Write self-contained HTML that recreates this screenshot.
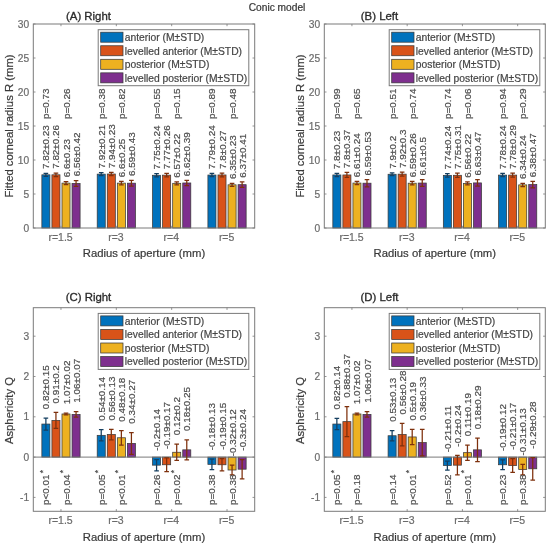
<!DOCTYPE html>
<html><head><meta charset="utf-8"><style>
html,body{margin:0;padding:0;background:#fff;}
svg{display:block;font-family:"Liberation Sans", sans-serif;filter:blur(0.35px);}
text{stroke-width:0.2px;paint-order:stroke;}
</style></head><body>
<svg width="550" height="546" viewBox="0 0 550 546">
<rect width="550" height="546" fill="#fff"/>
<rect x="41.86" y="174.82" width="8.05" height="53.18" fill="#0072BD" stroke="#3a3a3a" stroke-width="0.75"/>
<rect x="51.92" y="174.82" width="8.05" height="53.18" fill="#D95319" stroke="#3a3a3a" stroke-width="0.75"/>
<rect x="61.98" y="183.12" width="8.05" height="44.88" fill="#EDB120" stroke="#3a3a3a" stroke-width="0.75"/>
<rect x="72.04" y="183.39" width="8.05" height="44.61" fill="#7E2F8E" stroke="#3a3a3a" stroke-width="0.75"/>
<rect x="97.21" y="174.14" width="8.05" height="53.86" fill="#0072BD" stroke="#3a3a3a" stroke-width="0.75"/>
<rect x="107.27" y="174.01" width="8.05" height="53.99" fill="#D95319" stroke="#3a3a3a" stroke-width="0.75"/>
<rect x="117.33" y="183.12" width="8.05" height="44.88" fill="#EDB120" stroke="#3a3a3a" stroke-width="0.75"/>
<rect x="127.39" y="183.19" width="8.05" height="44.81" fill="#7E2F8E" stroke="#3a3a3a" stroke-width="0.75"/>
<rect x="152.56" y="175.30" width="8.05" height="52.70" fill="#0072BD" stroke="#3a3a3a" stroke-width="0.75"/>
<rect x="162.62" y="175.16" width="8.05" height="52.84" fill="#D95319" stroke="#3a3a3a" stroke-width="0.75"/>
<rect x="172.68" y="183.32" width="8.05" height="44.68" fill="#EDB120" stroke="#3a3a3a" stroke-width="0.75"/>
<rect x="182.74" y="182.98" width="8.05" height="45.02" fill="#7E2F8E" stroke="#3a3a3a" stroke-width="0.75"/>
<rect x="207.91" y="175.03" width="8.05" height="52.97" fill="#0072BD" stroke="#3a3a3a" stroke-width="0.75"/>
<rect x="217.97" y="174.96" width="8.05" height="53.04" fill="#D95319" stroke="#3a3a3a" stroke-width="0.75"/>
<rect x="228.03" y="184.82" width="8.05" height="43.18" fill="#EDB120" stroke="#3a3a3a" stroke-width="0.75"/>
<rect x="238.09" y="184.68" width="8.05" height="43.32" fill="#7E2F8E" stroke="#3a3a3a" stroke-width="0.75"/>
<path d="M45.88 173.26V176.39M43.58 173.26H48.18M43.58 176.39H48.18" stroke="#153f60" stroke-width="1.25" fill="none"/>
<path d="M55.94 173.06V176.59M53.64 173.06H58.24M53.64 176.59H58.24" stroke="#7e300c" stroke-width="1.25" fill="none"/>
<path d="M66.01 181.56V184.68M63.71 181.56H68.31M63.71 184.68H68.31" stroke="#7e300c" stroke-width="1.25" fill="none"/>
<path d="M76.07 180.54V186.25M73.77 180.54H78.37M73.77 186.25H78.37" stroke="#7e300c" stroke-width="1.25" fill="none"/>
<path d="M101.23 172.72V175.57M98.93 172.72H103.53M98.93 175.57H103.53" stroke="#153f60" stroke-width="1.25" fill="none"/>
<path d="M111.29 172.44V175.57M108.99 172.44H113.59M108.99 175.57H113.59" stroke="#7e300c" stroke-width="1.25" fill="none"/>
<path d="M121.36 181.42V184.82M119.06 181.42H123.66M119.06 184.82H123.66" stroke="#7e300c" stroke-width="1.25" fill="none"/>
<path d="M131.42 180.26V186.11M129.12 180.26H133.72M129.12 186.11H133.72" stroke="#7e300c" stroke-width="1.25" fill="none"/>
<path d="M156.58 173.67V176.93M154.28 173.67H158.88M154.28 176.93H158.88" stroke="#153f60" stroke-width="1.25" fill="none"/>
<path d="M166.64 173.40V176.93M164.34 173.40H168.94M164.34 176.93H168.94" stroke="#7e300c" stroke-width="1.25" fill="none"/>
<path d="M176.71 181.83V184.82M174.41 181.83H179.01M174.41 184.82H179.01" stroke="#7e300c" stroke-width="1.25" fill="none"/>
<path d="M186.77 180.33V185.64M184.47 180.33H189.07M184.47 185.64H189.07" stroke="#7e300c" stroke-width="1.25" fill="none"/>
<path d="M211.93 173.40V176.66M209.63 173.40H214.23M209.63 176.66H214.23" stroke="#153f60" stroke-width="1.25" fill="none"/>
<path d="M221.99 173.12V176.80M219.69 173.12H224.29M219.69 176.80H224.29" stroke="#7e300c" stroke-width="1.25" fill="none"/>
<path d="M232.06 183.26V186.38M229.76 183.26H234.36M229.76 186.38H234.36" stroke="#7e300c" stroke-width="1.25" fill="none"/>
<path d="M242.12 181.90V187.47M239.82 181.90H244.42M239.82 187.47H244.42" stroke="#7e300c" stroke-width="1.25" fill="none"/>
<text transform="translate(49.43,169.06) rotate(-90)" font-size="9.9" fill="#4a4a4a" stroke="#4a4a4a">7.82±0.23</text>
<text transform="translate(59.49,168.86) rotate(-90)" font-size="9.9" fill="#4a4a4a" stroke="#4a4a4a">7.82±0.26</text>
<text transform="translate(69.55,177.36) rotate(-90)" font-size="9.9" fill="#4a4a4a" stroke="#4a4a4a">6.6±0.23</text>
<text transform="translate(79.61,176.34) rotate(-90)" font-size="9.9" fill="#4a4a4a" stroke="#4a4a4a">6.56±0.42</text>
<text transform="translate(104.78,168.52) rotate(-90)" font-size="9.9" fill="#4a4a4a" stroke="#4a4a4a">7.92±0.21</text>
<text transform="translate(114.84,168.24) rotate(-90)" font-size="9.9" fill="#4a4a4a" stroke="#4a4a4a">7.94±0.23</text>
<text transform="translate(124.90,177.22) rotate(-90)" font-size="9.9" fill="#4a4a4a" stroke="#4a4a4a">6.6±0.25</text>
<text transform="translate(134.96,176.06) rotate(-90)" font-size="9.9" fill="#4a4a4a" stroke="#4a4a4a">6.59±0.43</text>
<text transform="translate(160.13,169.47) rotate(-90)" font-size="9.9" fill="#4a4a4a" stroke="#4a4a4a">7.75±0.24</text>
<text transform="translate(170.19,169.20) rotate(-90)" font-size="9.9" fill="#4a4a4a" stroke="#4a4a4a">7.77±0.26</text>
<text transform="translate(180.25,177.63) rotate(-90)" font-size="9.9" fill="#4a4a4a" stroke="#4a4a4a">6.57±0.22</text>
<text transform="translate(190.31,176.13) rotate(-90)" font-size="9.9" fill="#4a4a4a" stroke="#4a4a4a">6.62±0.39</text>
<text transform="translate(215.48,169.20) rotate(-90)" font-size="9.9" fill="#4a4a4a" stroke="#4a4a4a">7.79±0.24</text>
<text transform="translate(225.54,168.92) rotate(-90)" font-size="9.9" fill="#4a4a4a" stroke="#4a4a4a">7.8±0.27</text>
<text transform="translate(235.60,179.06) rotate(-90)" font-size="9.9" fill="#4a4a4a" stroke="#4a4a4a">6.35±0.23</text>
<text transform="translate(245.66,177.70) rotate(-90)" font-size="9.9" fill="#4a4a4a" stroke="#4a4a4a">6.37±0.41</text>
<text transform="translate(49.43,119.00) rotate(-90)" font-size="9.9" fill="#4a4a4a" stroke="#4a4a4a">p=0.73</text>
<text transform="translate(69.55,119.00) rotate(-90)" font-size="9.9" fill="#4a4a4a" stroke="#4a4a4a">p=0.26</text>
<text transform="translate(104.78,119.00) rotate(-90)" font-size="9.9" fill="#4a4a4a" stroke="#4a4a4a">p=0.38</text>
<text transform="translate(124.90,119.00) rotate(-90)" font-size="9.9" fill="#4a4a4a" stroke="#4a4a4a">p=0.82</text>
<text transform="translate(160.13,119.00) rotate(-90)" font-size="9.9" fill="#4a4a4a" stroke="#4a4a4a">p=0.55</text>
<text transform="translate(180.25,119.00) rotate(-90)" font-size="9.9" fill="#4a4a4a" stroke="#4a4a4a">p=0.15</text>
<text transform="translate(215.48,119.00) rotate(-90)" font-size="9.9" fill="#4a4a4a" stroke="#4a4a4a">p=0.89</text>
<text transform="translate(235.60,119.00) rotate(-90)" font-size="9.9" fill="#4a4a4a" stroke="#4a4a4a">p=0.48</text>
<rect x="33.3" y="24.0" width="221.40" height="204.00" fill="none" stroke="#7a7a7a" stroke-width="1.0"/>
<path d="M33.3 228.00h2.2M254.7 228.00h-2.2" stroke="#7a7a7a" stroke-width="0.8"/>
<text x="29.10" y="231.65" font-size="10.2" fill="#6a6a6a" stroke="#6a6a6a" text-anchor="end">0</text>
<path d="M33.3 194.00h2.2M254.7 194.00h-2.2" stroke="#7a7a7a" stroke-width="0.8"/>
<text x="29.10" y="197.65" font-size="10.2" fill="#6a6a6a" stroke="#6a6a6a" text-anchor="end">5</text>
<path d="M33.3 160.00h2.2M254.7 160.00h-2.2" stroke="#7a7a7a" stroke-width="0.8"/>
<text x="29.10" y="163.65" font-size="10.2" fill="#6a6a6a" stroke="#6a6a6a" text-anchor="end">10</text>
<path d="M33.3 126.00h2.2M254.7 126.00h-2.2" stroke="#7a7a7a" stroke-width="0.8"/>
<text x="29.10" y="129.65" font-size="10.2" fill="#6a6a6a" stroke="#6a6a6a" text-anchor="end">15</text>
<path d="M33.3 92.00h2.2M254.7 92.00h-2.2" stroke="#7a7a7a" stroke-width="0.8"/>
<text x="29.10" y="95.65" font-size="10.2" fill="#6a6a6a" stroke="#6a6a6a" text-anchor="end">20</text>
<path d="M33.3 58.00h2.2M254.7 58.00h-2.2" stroke="#7a7a7a" stroke-width="0.8"/>
<text x="29.10" y="61.65" font-size="10.2" fill="#6a6a6a" stroke="#6a6a6a" text-anchor="end">25</text>
<path d="M33.3 24.00h2.2M254.7 24.00h-2.2" stroke="#7a7a7a" stroke-width="0.8"/>
<text x="29.10" y="27.65" font-size="10.2" fill="#6a6a6a" stroke="#6a6a6a" text-anchor="end">30</text>
<path d="M60.97 228.0v-2.2M60.97 24.0v2.2" stroke="#7a7a7a" stroke-width="0.8"/>
<text x="60.57" y="241.10" font-size="10.50" fill="#6a6a6a" stroke="#6a6a6a" text-anchor="middle">r=1.5</text>
<path d="M116.32 228.0v-2.2M116.32 24.0v2.2" stroke="#7a7a7a" stroke-width="0.8"/>
<text x="115.92" y="241.10" font-size="10.50" fill="#6a6a6a" stroke="#6a6a6a" text-anchor="middle">r=3</text>
<path d="M171.68 228.0v-2.2M171.68 24.0v2.2" stroke="#7a7a7a" stroke-width="0.8"/>
<text x="171.28" y="241.10" font-size="10.50" fill="#6a6a6a" stroke="#6a6a6a" text-anchor="middle">r=4</text>
<path d="M227.02 228.0v-2.2M227.02 24.0v2.2" stroke="#7a7a7a" stroke-width="0.8"/>
<text x="226.62" y="241.10" font-size="10.50" fill="#6a6a6a" stroke="#6a6a6a" text-anchor="middle">r=5</text>
<text x="144.00" y="257.30" font-size="11.3" fill="#383838" stroke="#383838" text-anchor="middle">Radius of aperture (mm)</text>
<text transform="translate(13.30,126.00) rotate(-90)" font-size="11.3" fill="#383838" stroke="#383838" text-anchor="middle">Fitted corneal radius R (mm)</text>
<text x="88.50" y="20.30" font-size="11.4" fill="#2a2a2a" stroke="#2a2a2a" style="stroke-width:0.32px" text-anchor="middle">(A) Right</text>
<rect x="98.20" y="29.70" width="150.6" height="56.0" fill="#fff" stroke="#7a7a7a" stroke-width="1.0"/>
<rect x="100.70" y="32.20" width="22.3" height="10" fill="#0072BD" stroke="#3a3a3a" stroke-width="0.75"/>
<text x="124.80" y="41.00" font-size="10.3" fill="#444" stroke="#444">anterior (M±STD)</text>
<rect x="100.70" y="45.75" width="22.3" height="10" fill="#D95319" stroke="#3a3a3a" stroke-width="0.75"/>
<text x="124.80" y="54.55" font-size="10.3" fill="#444" stroke="#444">levelled anterior (M±STD)</text>
<rect x="100.70" y="59.30" width="22.3" height="10" fill="#EDB120" stroke="#3a3a3a" stroke-width="0.75"/>
<text x="124.80" y="68.10" font-size="10.3" fill="#444" stroke="#444">posterior (M±STD)</text>
<rect x="100.70" y="72.85" width="22.3" height="10" fill="#7E2F8E" stroke="#3a3a3a" stroke-width="0.75"/>
<text x="124.80" y="81.65" font-size="10.3" fill="#444" stroke="#444">levelled posterior (M±STD)</text>
<rect x="332.84" y="174.96" width="8.04" height="53.04" fill="#0072BD" stroke="#3a3a3a" stroke-width="0.75"/>
<rect x="342.88" y="174.96" width="8.04" height="53.04" fill="#D95319" stroke="#3a3a3a" stroke-width="0.75"/>
<rect x="352.93" y="183.05" width="8.04" height="44.95" fill="#EDB120" stroke="#3a3a3a" stroke-width="0.75"/>
<rect x="362.97" y="183.19" width="8.04" height="44.81" fill="#7E2F8E" stroke="#3a3a3a" stroke-width="0.75"/>
<rect x="388.09" y="174.28" width="8.04" height="53.72" fill="#0072BD" stroke="#3a3a3a" stroke-width="0.75"/>
<rect x="398.13" y="174.14" width="8.04" height="53.86" fill="#D95319" stroke="#3a3a3a" stroke-width="0.75"/>
<rect x="408.18" y="183.19" width="8.04" height="44.81" fill="#EDB120" stroke="#3a3a3a" stroke-width="0.75"/>
<rect x="418.22" y="183.05" width="8.04" height="44.95" fill="#7E2F8E" stroke="#3a3a3a" stroke-width="0.75"/>
<rect x="443.34" y="175.37" width="8.04" height="52.63" fill="#0072BD" stroke="#3a3a3a" stroke-width="0.75"/>
<rect x="453.38" y="175.30" width="8.04" height="52.70" fill="#D95319" stroke="#3a3a3a" stroke-width="0.75"/>
<rect x="463.43" y="183.39" width="8.04" height="44.61" fill="#EDB120" stroke="#3a3a3a" stroke-width="0.75"/>
<rect x="473.47" y="182.92" width="8.04" height="45.08" fill="#7E2F8E" stroke="#3a3a3a" stroke-width="0.75"/>
<rect x="498.59" y="175.10" width="8.04" height="52.90" fill="#0072BD" stroke="#3a3a3a" stroke-width="0.75"/>
<rect x="508.63" y="175.10" width="8.04" height="52.90" fill="#D95319" stroke="#3a3a3a" stroke-width="0.75"/>
<rect x="518.68" y="184.89" width="8.04" height="43.11" fill="#EDB120" stroke="#3a3a3a" stroke-width="0.75"/>
<rect x="528.72" y="184.62" width="8.04" height="43.38" fill="#7E2F8E" stroke="#3a3a3a" stroke-width="0.75"/>
<path d="M336.86 173.40V176.52M334.56 173.40H339.16M334.56 176.52H339.16" stroke="#153f60" stroke-width="1.25" fill="none"/>
<path d="M346.90 172.44V177.48M344.60 172.44H349.20M344.60 177.48H349.20" stroke="#7e300c" stroke-width="1.25" fill="none"/>
<path d="M356.95 181.42V184.68M354.65 181.42H359.25M354.65 184.68H359.25" stroke="#7e300c" stroke-width="1.25" fill="none"/>
<path d="M366.99 179.58V186.79M364.69 179.58H369.29M364.69 186.79H369.29" stroke="#7e300c" stroke-width="1.25" fill="none"/>
<path d="M392.11 172.92V175.64M389.81 172.92H394.41M389.81 175.64H394.41" stroke="#153f60" stroke-width="1.25" fill="none"/>
<path d="M402.15 172.10V176.18M399.85 172.10H404.45M399.85 176.18H404.45" stroke="#7e300c" stroke-width="1.25" fill="none"/>
<path d="M412.20 181.42V184.96M409.90 181.42H414.50M409.90 184.96H414.50" stroke="#7e300c" stroke-width="1.25" fill="none"/>
<path d="M422.24 179.65V186.45M419.94 179.65H424.54M419.94 186.45H424.54" stroke="#7e300c" stroke-width="1.25" fill="none"/>
<path d="M447.36 173.74V177.00M445.06 173.74H449.66M445.06 177.00H449.66" stroke="#153f60" stroke-width="1.25" fill="none"/>
<path d="M457.40 173.19V177.41M455.10 173.19H459.70M455.10 177.41H459.70" stroke="#7e300c" stroke-width="1.25" fill="none"/>
<path d="M467.45 181.90V184.89M465.15 181.90H469.75M465.15 184.89H469.75" stroke="#7e300c" stroke-width="1.25" fill="none"/>
<path d="M477.49 179.72V186.11M475.19 179.72H479.79M475.19 186.11H479.79" stroke="#7e300c" stroke-width="1.25" fill="none"/>
<path d="M502.61 173.46V176.73M500.31 173.46H504.91M500.31 176.73H504.91" stroke="#153f60" stroke-width="1.25" fill="none"/>
<path d="M512.65 173.12V177.07M510.35 173.12H514.95M510.35 177.07H514.95" stroke="#7e300c" stroke-width="1.25" fill="none"/>
<path d="M522.70 183.26V186.52M520.40 183.26H525.00M520.40 186.52H525.00" stroke="#7e300c" stroke-width="1.25" fill="none"/>
<path d="M532.74 181.42V187.81M530.44 181.42H535.04M530.44 187.81H535.04" stroke="#7e300c" stroke-width="1.25" fill="none"/>
<text transform="translate(340.40,169.20) rotate(-90)" font-size="9.9" fill="#4a4a4a" stroke="#4a4a4a">7.8±0.23</text>
<text transform="translate(350.45,168.24) rotate(-90)" font-size="9.9" fill="#4a4a4a" stroke="#4a4a4a">7.8±0.37</text>
<text transform="translate(360.49,177.22) rotate(-90)" font-size="9.9" fill="#4a4a4a" stroke="#4a4a4a">6.61±0.24</text>
<text transform="translate(370.54,175.38) rotate(-90)" font-size="9.9" fill="#4a4a4a" stroke="#4a4a4a">6.59±0.53</text>
<text transform="translate(395.65,168.72) rotate(-90)" font-size="9.9" fill="#4a4a4a" stroke="#4a4a4a">7.9±0.2</text>
<text transform="translate(405.70,167.90) rotate(-90)" font-size="9.9" fill="#4a4a4a" stroke="#4a4a4a">7.92±0.3</text>
<text transform="translate(415.74,177.22) rotate(-90)" font-size="9.9" fill="#4a4a4a" stroke="#4a4a4a">6.59±0.26</text>
<text transform="translate(425.79,175.45) rotate(-90)" font-size="9.9" fill="#4a4a4a" stroke="#4a4a4a">6.61±0.5</text>
<text transform="translate(450.90,169.54) rotate(-90)" font-size="9.9" fill="#4a4a4a" stroke="#4a4a4a">7.74±0.24</text>
<text transform="translate(460.95,168.99) rotate(-90)" font-size="9.9" fill="#4a4a4a" stroke="#4a4a4a">7.75±0.31</text>
<text transform="translate(470.99,177.70) rotate(-90)" font-size="9.9" fill="#4a4a4a" stroke="#4a4a4a">6.56±0.22</text>
<text transform="translate(481.04,175.52) rotate(-90)" font-size="9.9" fill="#4a4a4a" stroke="#4a4a4a">6.63±0.47</text>
<text transform="translate(506.15,169.26) rotate(-90)" font-size="9.9" fill="#4a4a4a" stroke="#4a4a4a">7.78±0.24</text>
<text transform="translate(516.20,168.92) rotate(-90)" font-size="9.9" fill="#4a4a4a" stroke="#4a4a4a">7.78±0.29</text>
<text transform="translate(526.24,179.06) rotate(-90)" font-size="9.9" fill="#4a4a4a" stroke="#4a4a4a">6.34±0.24</text>
<text transform="translate(536.29,177.22) rotate(-90)" font-size="9.9" fill="#4a4a4a" stroke="#4a4a4a">6.38±0.47</text>
<text transform="translate(340.40,119.00) rotate(-90)" font-size="9.9" fill="#4a4a4a" stroke="#4a4a4a">p=0.99</text>
<text transform="translate(360.49,119.00) rotate(-90)" font-size="9.9" fill="#4a4a4a" stroke="#4a4a4a">p=0.65</text>
<text transform="translate(395.65,119.00) rotate(-90)" font-size="9.9" fill="#4a4a4a" stroke="#4a4a4a">p=0.51</text>
<text transform="translate(415.74,119.00) rotate(-90)" font-size="9.9" fill="#4a4a4a" stroke="#4a4a4a">p=0.74</text>
<text transform="translate(450.90,119.00) rotate(-90)" font-size="9.9" fill="#4a4a4a" stroke="#4a4a4a">p=0.74</text>
<text transform="translate(470.99,119.00) rotate(-90)" font-size="9.9" fill="#4a4a4a" stroke="#4a4a4a">p=0.06</text>
<text transform="translate(506.15,119.00) rotate(-90)" font-size="9.9" fill="#4a4a4a" stroke="#4a4a4a">p=0.94</text>
<text transform="translate(526.24,119.00) rotate(-90)" font-size="9.9" fill="#4a4a4a" stroke="#4a4a4a">p=0.29</text>
<rect x="324.3" y="24.0" width="221.00" height="204.00" fill="none" stroke="#7a7a7a" stroke-width="1.0"/>
<path d="M324.3 228.00h2.2M545.3 228.00h-2.2" stroke="#7a7a7a" stroke-width="0.8"/>
<text x="320.10" y="231.65" font-size="10.2" fill="#6a6a6a" stroke="#6a6a6a" text-anchor="end">0</text>
<path d="M324.3 194.00h2.2M545.3 194.00h-2.2" stroke="#7a7a7a" stroke-width="0.8"/>
<text x="320.10" y="197.65" font-size="10.2" fill="#6a6a6a" stroke="#6a6a6a" text-anchor="end">5</text>
<path d="M324.3 160.00h2.2M545.3 160.00h-2.2" stroke="#7a7a7a" stroke-width="0.8"/>
<text x="320.10" y="163.65" font-size="10.2" fill="#6a6a6a" stroke="#6a6a6a" text-anchor="end">10</text>
<path d="M324.3 126.00h2.2M545.3 126.00h-2.2" stroke="#7a7a7a" stroke-width="0.8"/>
<text x="320.10" y="129.65" font-size="10.2" fill="#6a6a6a" stroke="#6a6a6a" text-anchor="end">15</text>
<path d="M324.3 92.00h2.2M545.3 92.00h-2.2" stroke="#7a7a7a" stroke-width="0.8"/>
<text x="320.10" y="95.65" font-size="10.2" fill="#6a6a6a" stroke="#6a6a6a" text-anchor="end">20</text>
<path d="M324.3 58.00h2.2M545.3 58.00h-2.2" stroke="#7a7a7a" stroke-width="0.8"/>
<text x="320.10" y="61.65" font-size="10.2" fill="#6a6a6a" stroke="#6a6a6a" text-anchor="end">25</text>
<path d="M324.3 24.00h2.2M545.3 24.00h-2.2" stroke="#7a7a7a" stroke-width="0.8"/>
<text x="320.10" y="27.65" font-size="10.2" fill="#6a6a6a" stroke="#6a6a6a" text-anchor="end">30</text>
<path d="M351.93 228.0v-2.2M351.93 24.0v2.2" stroke="#7a7a7a" stroke-width="0.8"/>
<text x="351.53" y="241.10" font-size="10.50" fill="#6a6a6a" stroke="#6a6a6a" text-anchor="middle">r=1.5</text>
<path d="M407.17 228.0v-2.2M407.17 24.0v2.2" stroke="#7a7a7a" stroke-width="0.8"/>
<text x="406.77" y="241.10" font-size="10.50" fill="#6a6a6a" stroke="#6a6a6a" text-anchor="middle">r=3</text>
<path d="M462.42 228.0v-2.2M462.42 24.0v2.2" stroke="#7a7a7a" stroke-width="0.8"/>
<text x="462.02" y="241.10" font-size="10.50" fill="#6a6a6a" stroke="#6a6a6a" text-anchor="middle">r=4</text>
<path d="M517.67 228.0v-2.2M517.67 24.0v2.2" stroke="#7a7a7a" stroke-width="0.8"/>
<text x="517.27" y="241.10" font-size="10.50" fill="#6a6a6a" stroke="#6a6a6a" text-anchor="middle">r=5</text>
<text x="434.80" y="257.30" font-size="11.3" fill="#383838" stroke="#383838" text-anchor="middle">Radius of aperture (mm)</text>
<text transform="translate(304.30,126.00) rotate(-90)" font-size="11.3" fill="#383838" stroke="#383838" text-anchor="middle">Fitted corneal radius R (mm)</text>
<text x="379.50" y="20.30" font-size="11.4" fill="#2a2a2a" stroke="#2a2a2a" style="stroke-width:0.32px" text-anchor="middle">(B) Left</text>
<rect x="389.20" y="29.70" width="150.6" height="56.0" fill="#fff" stroke="#7a7a7a" stroke-width="1.0"/>
<rect x="391.70" y="32.20" width="22.3" height="10" fill="#0072BD" stroke="#3a3a3a" stroke-width="0.75"/>
<text x="415.80" y="41.00" font-size="10.3" fill="#444" stroke="#444">anterior (M±STD)</text>
<rect x="391.70" y="45.75" width="22.3" height="10" fill="#D95319" stroke="#3a3a3a" stroke-width="0.75"/>
<text x="415.80" y="54.55" font-size="10.3" fill="#444" stroke="#444">levelled anterior (M±STD)</text>
<rect x="391.70" y="59.30" width="22.3" height="10" fill="#EDB120" stroke="#3a3a3a" stroke-width="0.75"/>
<text x="415.80" y="68.10" font-size="10.3" fill="#444" stroke="#444">posterior (M±STD)</text>
<rect x="391.70" y="72.85" width="22.3" height="10" fill="#7E2F8E" stroke="#3a3a3a" stroke-width="0.75"/>
<text x="415.80" y="81.65" font-size="10.3" fill="#444" stroke="#444">levelled posterior (M±STD)</text>
<rect x="41.86" y="424.05" width="8.05" height="33.05" fill="#0072BD" stroke="#3a3a3a" stroke-width="0.75"/>
<rect x="51.92" y="420.43" width="8.05" height="36.67" fill="#D95319" stroke="#3a3a3a" stroke-width="0.75"/>
<rect x="61.98" y="413.98" width="8.05" height="43.12" fill="#EDB120" stroke="#3a3a3a" stroke-width="0.75"/>
<rect x="72.04" y="414.38" width="8.05" height="42.72" fill="#7E2F8E" stroke="#3a3a3a" stroke-width="0.75"/>
<rect x="97.21" y="435.34" width="8.05" height="21.76" fill="#0072BD" stroke="#3a3a3a" stroke-width="0.75"/>
<rect x="107.27" y="434.53" width="8.05" height="22.57" fill="#D95319" stroke="#3a3a3a" stroke-width="0.75"/>
<rect x="117.33" y="437.76" width="8.05" height="19.34" fill="#EDB120" stroke="#3a3a3a" stroke-width="0.75"/>
<rect x="127.39" y="443.40" width="8.05" height="13.70" fill="#7E2F8E" stroke="#3a3a3a" stroke-width="0.75"/>
<rect x="152.56" y="457.10" width="8.05" height="8.06" fill="#0072BD" stroke="#3a3a3a" stroke-width="0.75"/>
<rect x="162.62" y="457.10" width="8.05" height="7.66" fill="#D95319" stroke="#3a3a3a" stroke-width="0.75"/>
<rect x="172.68" y="452.26" width="8.05" height="4.84" fill="#EDB120" stroke="#3a3a3a" stroke-width="0.75"/>
<rect x="182.74" y="449.85" width="8.05" height="7.25" fill="#7E2F8E" stroke="#3a3a3a" stroke-width="0.75"/>
<rect x="207.91" y="457.10" width="8.05" height="7.25" fill="#0072BD" stroke="#3a3a3a" stroke-width="0.75"/>
<rect x="217.97" y="457.10" width="8.05" height="7.66" fill="#D95319" stroke="#3a3a3a" stroke-width="0.75"/>
<rect x="228.03" y="457.10" width="8.05" height="12.90" fill="#EDB120" stroke="#3a3a3a" stroke-width="0.75"/>
<rect x="238.09" y="457.10" width="8.05" height="12.09" fill="#7E2F8E" stroke="#3a3a3a" stroke-width="0.75"/>
<line x1="33.3" y1="457.1" x2="254.7" y2="457.1" stroke="#7a7a7a" stroke-width="1.0"/>
<path d="M45.88 418.01V430.10M43.58 418.01H48.18M43.58 430.10H48.18" stroke="#153f60" stroke-width="1.25" fill="none"/>
<path d="M55.94 412.37V428.49M53.64 412.37H58.24M53.64 428.49H58.24" stroke="#7e300c" stroke-width="1.25" fill="none"/>
<path d="M66.01 413.17V414.79M63.71 413.17H68.31M63.71 414.79H68.31" stroke="#7e300c" stroke-width="1.25" fill="none"/>
<path d="M76.07 411.56V417.20M73.77 411.56H78.37M73.77 417.20H78.37" stroke="#7e300c" stroke-width="1.25" fill="none"/>
<path d="M101.23 429.70V440.98M98.93 429.70H103.53M98.93 440.98H103.53" stroke="#153f60" stroke-width="1.25" fill="none"/>
<path d="M111.29 429.29V439.77M108.99 429.29H113.59M108.99 439.77H113.59" stroke="#7e300c" stroke-width="1.25" fill="none"/>
<path d="M121.36 430.50V445.01M119.06 430.50H123.66M119.06 445.01H123.66" stroke="#7e300c" stroke-width="1.25" fill="none"/>
<path d="M131.42 432.52V454.28M129.12 432.52H133.72M129.12 454.28H133.72" stroke="#7e300c" stroke-width="1.25" fill="none"/>
<path d="M156.58 459.52V470.80M154.28 459.52H158.88M154.28 470.80H158.88" stroke="#153f60" stroke-width="1.25" fill="none"/>
<path d="M166.64 457.91V471.61M164.34 457.91H168.94M164.34 471.61H168.94" stroke="#7e300c" stroke-width="1.25" fill="none"/>
<path d="M176.71 444.20V460.32M174.41 444.20H179.01M174.41 460.32H179.01" stroke="#7e300c" stroke-width="1.25" fill="none"/>
<path d="M186.77 439.77V459.92M184.47 439.77H189.07M184.47 459.92H189.07" stroke="#7e300c" stroke-width="1.25" fill="none"/>
<path d="M211.93 459.12V469.59M209.63 459.12H214.23M209.63 469.59H214.23" stroke="#153f60" stroke-width="1.25" fill="none"/>
<path d="M221.99 458.71V470.80M219.69 458.71H224.29M219.69 470.80H224.29" stroke="#7e300c" stroke-width="1.25" fill="none"/>
<path d="M232.06 465.16V474.83M229.76 465.16H234.36M229.76 474.83H234.36" stroke="#7e300c" stroke-width="1.25" fill="none"/>
<path d="M242.12 459.52V478.86M239.82 459.52H244.42M239.82 478.86H244.42" stroke="#7e300c" stroke-width="1.25" fill="none"/>
<text transform="translate(49.43,409.15) rotate(-90)" font-size="9.9" fill="#4a4a4a" stroke="#4a4a4a">0.82±0.15</text>
<text transform="translate(59.49,403.51) rotate(-90)" font-size="9.9" fill="#4a4a4a" stroke="#4a4a4a">0.91±0.2</text>
<text transform="translate(69.55,404.31) rotate(-90)" font-size="9.9" fill="#4a4a4a" stroke="#4a4a4a">1.07±0.02</text>
<text transform="translate(79.61,402.70) rotate(-90)" font-size="9.9" fill="#4a4a4a" stroke="#4a4a4a">1.06±0.07</text>
<text transform="translate(104.78,420.84) rotate(-90)" font-size="9.9" fill="#4a4a4a" stroke="#4a4a4a">0.54±0.14</text>
<text transform="translate(114.84,420.43) rotate(-90)" font-size="9.9" fill="#4a4a4a" stroke="#4a4a4a">0.56±0.13</text>
<text transform="translate(124.90,421.64) rotate(-90)" font-size="9.9" fill="#4a4a4a" stroke="#4a4a4a">0.48±0.18</text>
<text transform="translate(134.96,423.66) rotate(-90)" font-size="9.9" fill="#4a4a4a" stroke="#4a4a4a">0.34±0.27</text>
<text transform="translate(160.13,450.66) rotate(-90)" font-size="9.9" fill="#4a4a4a" stroke="#4a4a4a">-0.2±0.14</text>
<text transform="translate(170.19,449.05) rotate(-90)" font-size="9.9" fill="#4a4a4a" stroke="#4a4a4a">-0.19±0.17</text>
<text transform="translate(180.25,435.34) rotate(-90)" font-size="9.9" fill="#4a4a4a" stroke="#4a4a4a">0.12±0.2</text>
<text transform="translate(190.31,430.91) rotate(-90)" font-size="9.9" fill="#4a4a4a" stroke="#4a4a4a">0.18±0.25</text>
<text transform="translate(215.48,450.25) rotate(-90)" font-size="9.9" fill="#4a4a4a" stroke="#4a4a4a">-0.18±0.13</text>
<text transform="translate(225.54,449.85) rotate(-90)" font-size="9.9" fill="#4a4a4a" stroke="#4a4a4a">-0.19±0.15</text>
<text transform="translate(235.60,456.30) rotate(-90)" font-size="9.9" fill="#4a4a4a" stroke="#4a4a4a">-0.32±0.12</text>
<text transform="translate(245.66,450.66) rotate(-90)" font-size="9.9" fill="#4a4a4a" stroke="#4a4a4a">-0.3±0.24</text>
<text transform="translate(49.43,505.00) rotate(-90)" font-size="9.9" fill="#4a4a4a" stroke="#4a4a4a">p&lt;0.01<tspan font-size="8.42" dx="1.2" dy="-3.6">*</tspan></text>
<text transform="translate(69.55,505.00) rotate(-90)" font-size="9.9" fill="#4a4a4a" stroke="#4a4a4a">p=0.04<tspan font-size="8.42" dx="1.2" dy="-3.6">*</tspan></text>
<text transform="translate(104.78,505.00) rotate(-90)" font-size="9.9" fill="#4a4a4a" stroke="#4a4a4a">p=0.05<tspan font-size="8.42" dx="1.2" dy="-3.6">*</tspan></text>
<text transform="translate(124.90,505.00) rotate(-90)" font-size="9.9" fill="#4a4a4a" stroke="#4a4a4a">p&lt;0.01<tspan font-size="8.42" dx="1.2" dy="-3.6">*</tspan></text>
<text transform="translate(160.13,505.00) rotate(-90)" font-size="9.9" fill="#4a4a4a" stroke="#4a4a4a">p=0.26</text>
<text transform="translate(180.25,505.00) rotate(-90)" font-size="9.9" fill="#4a4a4a" stroke="#4a4a4a">p=0.02<tspan font-size="8.42" dx="1.2" dy="-3.6">*</tspan></text>
<text transform="translate(215.48,505.00) rotate(-90)" font-size="9.9" fill="#4a4a4a" stroke="#4a4a4a">p=0.38</text>
<text transform="translate(235.60,505.00) rotate(-90)" font-size="9.9" fill="#4a4a4a" stroke="#4a4a4a">p=0.38</text>
<rect x="33.3" y="307.7" width="221.40" height="203.60" fill="none" stroke="#7a7a7a" stroke-width="1.0"/>
<path d="M33.3 497.40h2.2M254.7 497.40h-2.2" stroke="#7a7a7a" stroke-width="0.8"/>
<text x="29.10" y="501.05" font-size="10.2" fill="#6a6a6a" stroke="#6a6a6a" text-anchor="end">-1</text>
<path d="M33.3 457.10h2.2M254.7 457.10h-2.2" stroke="#7a7a7a" stroke-width="0.8"/>
<text x="29.10" y="460.75" font-size="10.2" fill="#6a6a6a" stroke="#6a6a6a" text-anchor="end">0</text>
<path d="M33.3 416.80h2.2M254.7 416.80h-2.2" stroke="#7a7a7a" stroke-width="0.8"/>
<text x="29.10" y="420.45" font-size="10.2" fill="#6a6a6a" stroke="#6a6a6a" text-anchor="end">1</text>
<path d="M33.3 376.50h2.2M254.7 376.50h-2.2" stroke="#7a7a7a" stroke-width="0.8"/>
<text x="29.10" y="380.15" font-size="10.2" fill="#6a6a6a" stroke="#6a6a6a" text-anchor="end">2</text>
<path d="M33.3 336.20h2.2M254.7 336.20h-2.2" stroke="#7a7a7a" stroke-width="0.8"/>
<text x="29.10" y="339.85" font-size="10.2" fill="#6a6a6a" stroke="#6a6a6a" text-anchor="end">3</text>
<path d="M60.97 511.3v-2.2M60.97 307.7v2.2" stroke="#7a7a7a" stroke-width="0.8"/>
<text x="60.57" y="524.40" font-size="10.50" fill="#6a6a6a" stroke="#6a6a6a" text-anchor="middle">r=1.5</text>
<path d="M116.32 511.3v-2.2M116.32 307.7v2.2" stroke="#7a7a7a" stroke-width="0.8"/>
<text x="115.92" y="524.40" font-size="10.50" fill="#6a6a6a" stroke="#6a6a6a" text-anchor="middle">r=3</text>
<path d="M171.68 511.3v-2.2M171.68 307.7v2.2" stroke="#7a7a7a" stroke-width="0.8"/>
<text x="171.28" y="524.40" font-size="10.50" fill="#6a6a6a" stroke="#6a6a6a" text-anchor="middle">r=4</text>
<path d="M227.02 511.3v-2.2M227.02 307.7v2.2" stroke="#7a7a7a" stroke-width="0.8"/>
<text x="226.62" y="524.40" font-size="10.50" fill="#6a6a6a" stroke="#6a6a6a" text-anchor="middle">r=5</text>
<text x="144.00" y="540.60" font-size="11.3" fill="#383838" stroke="#383838" text-anchor="middle">Radius of aperture (mm)</text>
<text transform="translate(13.30,410.50) rotate(-90)" font-size="11.3" fill="#383838" stroke="#383838" text-anchor="middle">Asphericity Q</text>
<text x="88.50" y="300.80" font-size="11.4" fill="#2a2a2a" stroke="#2a2a2a" style="stroke-width:0.32px" text-anchor="middle">(C) Right</text>
<rect x="98.20" y="313.40" width="150.6" height="56.0" fill="#fff" stroke="#7a7a7a" stroke-width="1.0"/>
<rect x="100.70" y="315.90" width="22.3" height="10" fill="#0072BD" stroke="#3a3a3a" stroke-width="0.75"/>
<text x="124.80" y="324.70" font-size="10.3" fill="#444" stroke="#444">anterior (M±STD)</text>
<rect x="100.70" y="329.45" width="22.3" height="10" fill="#D95319" stroke="#3a3a3a" stroke-width="0.75"/>
<text x="124.80" y="338.25" font-size="10.3" fill="#444" stroke="#444">levelled anterior (M±STD)</text>
<rect x="100.70" y="343.00" width="22.3" height="10" fill="#EDB120" stroke="#3a3a3a" stroke-width="0.75"/>
<text x="124.80" y="351.80" font-size="10.3" fill="#444" stroke="#444">posterior (M±STD)</text>
<rect x="100.70" y="356.55" width="22.3" height="10" fill="#7E2F8E" stroke="#3a3a3a" stroke-width="0.75"/>
<text x="124.80" y="365.35" font-size="10.3" fill="#444" stroke="#444">levelled posterior (M±STD)</text>
<rect x="332.84" y="424.05" width="8.04" height="33.05" fill="#0072BD" stroke="#3a3a3a" stroke-width="0.75"/>
<rect x="342.88" y="421.64" width="8.04" height="35.46" fill="#D95319" stroke="#3a3a3a" stroke-width="0.75"/>
<rect x="352.93" y="413.98" width="8.04" height="43.12" fill="#EDB120" stroke="#3a3a3a" stroke-width="0.75"/>
<rect x="362.97" y="414.38" width="8.04" height="42.72" fill="#7E2F8E" stroke="#3a3a3a" stroke-width="0.75"/>
<rect x="388.09" y="435.74" width="8.04" height="21.36" fill="#0072BD" stroke="#3a3a3a" stroke-width="0.75"/>
<rect x="398.13" y="434.53" width="8.04" height="22.57" fill="#D95319" stroke="#3a3a3a" stroke-width="0.75"/>
<rect x="408.18" y="436.95" width="8.04" height="20.15" fill="#EDB120" stroke="#3a3a3a" stroke-width="0.75"/>
<rect x="418.22" y="442.59" width="8.04" height="14.51" fill="#7E2F8E" stroke="#3a3a3a" stroke-width="0.75"/>
<rect x="443.34" y="457.10" width="8.04" height="8.46" fill="#0072BD" stroke="#3a3a3a" stroke-width="0.75"/>
<rect x="453.38" y="457.10" width="8.04" height="8.06" fill="#D95319" stroke="#3a3a3a" stroke-width="0.75"/>
<rect x="463.43" y="452.67" width="8.04" height="4.43" fill="#EDB120" stroke="#3a3a3a" stroke-width="0.75"/>
<rect x="473.47" y="449.85" width="8.04" height="7.25" fill="#7E2F8E" stroke="#3a3a3a" stroke-width="0.75"/>
<rect x="498.59" y="457.10" width="8.04" height="7.66" fill="#0072BD" stroke="#3a3a3a" stroke-width="0.75"/>
<rect x="508.63" y="457.10" width="8.04" height="8.46" fill="#D95319" stroke="#3a3a3a" stroke-width="0.75"/>
<rect x="518.68" y="457.10" width="8.04" height="12.49" fill="#EDB120" stroke="#3a3a3a" stroke-width="0.75"/>
<rect x="528.72" y="457.10" width="8.04" height="11.69" fill="#7E2F8E" stroke="#3a3a3a" stroke-width="0.75"/>
<line x1="324.3" y1="457.1" x2="545.3" y2="457.1" stroke="#7a7a7a" stroke-width="1.0"/>
<path d="M336.86 418.41V429.70M334.56 418.41H339.16M334.56 429.70H339.16" stroke="#153f60" stroke-width="1.25" fill="none"/>
<path d="M346.90 406.73V436.55M344.60 406.73H349.20M344.60 436.55H349.20" stroke="#7e300c" stroke-width="1.25" fill="none"/>
<path d="M356.95 413.17V414.79M354.65 413.17H359.25M354.65 414.79H359.25" stroke="#7e300c" stroke-width="1.25" fill="none"/>
<path d="M366.99 411.56V417.20M364.69 411.56H369.29M364.69 417.20H369.29" stroke="#7e300c" stroke-width="1.25" fill="none"/>
<path d="M392.11 430.50V440.98M389.81 430.50H394.41M389.81 440.98H394.41" stroke="#153f60" stroke-width="1.25" fill="none"/>
<path d="M402.15 423.25V445.82M399.85 423.25H404.45M399.85 445.82H404.45" stroke="#7e300c" stroke-width="1.25" fill="none"/>
<path d="M412.20 429.29V444.61M409.90 429.29H414.50M409.90 444.61H414.50" stroke="#7e300c" stroke-width="1.25" fill="none"/>
<path d="M422.24 429.29V455.89M419.94 429.29H424.54M419.94 455.89H424.54" stroke="#7e300c" stroke-width="1.25" fill="none"/>
<path d="M447.36 461.13V470.00M445.06 461.13H449.66M445.06 470.00H449.66" stroke="#153f60" stroke-width="1.25" fill="none"/>
<path d="M457.40 455.49V474.83M455.10 455.49H459.70M455.10 474.83H459.70" stroke="#7e300c" stroke-width="1.25" fill="none"/>
<path d="M467.45 445.01V460.32M465.15 445.01H469.75M465.15 460.32H469.75" stroke="#7e300c" stroke-width="1.25" fill="none"/>
<path d="M477.49 438.16V461.53M475.19 438.16H479.79M475.19 461.53H479.79" stroke="#7e300c" stroke-width="1.25" fill="none"/>
<path d="M502.61 459.92V469.59M500.31 459.92H504.91M500.31 469.59H504.91" stroke="#153f60" stroke-width="1.25" fill="none"/>
<path d="M512.65 458.71V472.41M510.35 458.71H514.95M510.35 472.41H514.95" stroke="#7e300c" stroke-width="1.25" fill="none"/>
<path d="M522.70 464.35V474.83M520.40 464.35H525.00M520.40 474.83H525.00" stroke="#7e300c" stroke-width="1.25" fill="none"/>
<path d="M532.74 457.50V480.07M530.44 457.50H535.04M530.44 480.07H535.04" stroke="#7e300c" stroke-width="1.25" fill="none"/>
<text transform="translate(340.40,409.55) rotate(-90)" font-size="9.9" fill="#4a4a4a" stroke="#4a4a4a">0.82±0.14</text>
<text transform="translate(350.45,397.87) rotate(-90)" font-size="9.9" fill="#4a4a4a" stroke="#4a4a4a">0.88±0.37</text>
<text transform="translate(360.49,404.31) rotate(-90)" font-size="9.9" fill="#4a4a4a" stroke="#4a4a4a">1.07±0.02</text>
<text transform="translate(370.54,402.70) rotate(-90)" font-size="9.9" fill="#4a4a4a" stroke="#4a4a4a">1.06±0.07</text>
<text transform="translate(395.65,421.64) rotate(-90)" font-size="9.9" fill="#4a4a4a" stroke="#4a4a4a">0.53±0.13</text>
<text transform="translate(405.70,414.39) rotate(-90)" font-size="9.9" fill="#4a4a4a" stroke="#4a4a4a">0.56±0.28</text>
<text transform="translate(415.74,420.43) rotate(-90)" font-size="9.9" fill="#4a4a4a" stroke="#4a4a4a">0.5±0.19</text>
<text transform="translate(425.79,420.43) rotate(-90)" font-size="9.9" fill="#4a4a4a" stroke="#4a4a4a">0.36±0.33</text>
<text transform="translate(450.90,452.27) rotate(-90)" font-size="9.9" fill="#4a4a4a" stroke="#4a4a4a">-0.21±0.11</text>
<text transform="translate(460.95,446.63) rotate(-90)" font-size="9.9" fill="#4a4a4a" stroke="#4a4a4a">-0.2±0.24</text>
<text transform="translate(470.99,436.15) rotate(-90)" font-size="9.9" fill="#4a4a4a" stroke="#4a4a4a">0.11±0.19</text>
<text transform="translate(481.04,429.30) rotate(-90)" font-size="9.9" fill="#4a4a4a" stroke="#4a4a4a">0.18±0.29</text>
<text transform="translate(506.15,451.06) rotate(-90)" font-size="9.9" fill="#4a4a4a" stroke="#4a4a4a">-0.19±0.12</text>
<text transform="translate(516.20,449.85) rotate(-90)" font-size="9.9" fill="#4a4a4a" stroke="#4a4a4a">-0.21±0.17</text>
<text transform="translate(526.24,455.49) rotate(-90)" font-size="9.9" fill="#4a4a4a" stroke="#4a4a4a">-0.31±0.13</text>
<text transform="translate(536.29,448.64) rotate(-90)" font-size="9.9" fill="#4a4a4a" stroke="#4a4a4a">-0.29±0.28</text>
<text transform="translate(340.40,505.00) rotate(-90)" font-size="9.9" fill="#4a4a4a" stroke="#4a4a4a">p=0.05<tspan font-size="8.42" dx="1.2" dy="-3.6">*</tspan></text>
<text transform="translate(360.49,505.00) rotate(-90)" font-size="9.9" fill="#4a4a4a" stroke="#4a4a4a">p=0.18</text>
<text transform="translate(395.65,505.00) rotate(-90)" font-size="9.9" fill="#4a4a4a" stroke="#4a4a4a">p=0.14</text>
<text transform="translate(415.74,505.00) rotate(-90)" font-size="9.9" fill="#4a4a4a" stroke="#4a4a4a">p&lt;0.01<tspan font-size="8.42" dx="1.2" dy="-3.6">*</tspan></text>
<text transform="translate(450.90,505.00) rotate(-90)" font-size="9.9" fill="#4a4a4a" stroke="#4a4a4a">p=0.52</text>
<text transform="translate(470.99,505.00) rotate(-90)" font-size="9.9" fill="#4a4a4a" stroke="#4a4a4a">p=0.01<tspan font-size="8.42" dx="1.2" dy="-3.6">*</tspan></text>
<text transform="translate(506.15,505.00) rotate(-90)" font-size="9.9" fill="#4a4a4a" stroke="#4a4a4a">p=0.23</text>
<text transform="translate(526.24,505.00) rotate(-90)" font-size="9.9" fill="#4a4a4a" stroke="#4a4a4a">p=0.38</text>
<rect x="324.3" y="307.7" width="221.00" height="203.60" fill="none" stroke="#7a7a7a" stroke-width="1.0"/>
<path d="M324.3 497.40h2.2M545.3 497.40h-2.2" stroke="#7a7a7a" stroke-width="0.8"/>
<text x="320.10" y="501.05" font-size="10.2" fill="#6a6a6a" stroke="#6a6a6a" text-anchor="end">-1</text>
<path d="M324.3 457.10h2.2M545.3 457.10h-2.2" stroke="#7a7a7a" stroke-width="0.8"/>
<text x="320.10" y="460.75" font-size="10.2" fill="#6a6a6a" stroke="#6a6a6a" text-anchor="end">0</text>
<path d="M324.3 416.80h2.2M545.3 416.80h-2.2" stroke="#7a7a7a" stroke-width="0.8"/>
<text x="320.10" y="420.45" font-size="10.2" fill="#6a6a6a" stroke="#6a6a6a" text-anchor="end">1</text>
<path d="M324.3 376.50h2.2M545.3 376.50h-2.2" stroke="#7a7a7a" stroke-width="0.8"/>
<text x="320.10" y="380.15" font-size="10.2" fill="#6a6a6a" stroke="#6a6a6a" text-anchor="end">2</text>
<path d="M324.3 336.20h2.2M545.3 336.20h-2.2" stroke="#7a7a7a" stroke-width="0.8"/>
<text x="320.10" y="339.85" font-size="10.2" fill="#6a6a6a" stroke="#6a6a6a" text-anchor="end">3</text>
<path d="M351.93 511.3v-2.2M351.93 307.7v2.2" stroke="#7a7a7a" stroke-width="0.8"/>
<text x="351.53" y="524.40" font-size="10.50" fill="#6a6a6a" stroke="#6a6a6a" text-anchor="middle">r=1.5</text>
<path d="M407.17 511.3v-2.2M407.17 307.7v2.2" stroke="#7a7a7a" stroke-width="0.8"/>
<text x="406.77" y="524.40" font-size="10.50" fill="#6a6a6a" stroke="#6a6a6a" text-anchor="middle">r=3</text>
<path d="M462.42 511.3v-2.2M462.42 307.7v2.2" stroke="#7a7a7a" stroke-width="0.8"/>
<text x="462.02" y="524.40" font-size="10.50" fill="#6a6a6a" stroke="#6a6a6a" text-anchor="middle">r=4</text>
<path d="M517.67 511.3v-2.2M517.67 307.7v2.2" stroke="#7a7a7a" stroke-width="0.8"/>
<text x="517.27" y="524.40" font-size="10.50" fill="#6a6a6a" stroke="#6a6a6a" text-anchor="middle">r=5</text>
<text x="434.80" y="540.60" font-size="11.3" fill="#383838" stroke="#383838" text-anchor="middle">Radius of aperture (mm)</text>
<text transform="translate(304.30,410.50) rotate(-90)" font-size="11.3" fill="#383838" stroke="#383838" text-anchor="middle">Asphericity Q</text>
<text x="379.50" y="300.80" font-size="11.4" fill="#2a2a2a" stroke="#2a2a2a" style="stroke-width:0.32px" text-anchor="middle">(D) Left</text>
<rect x="389.20" y="313.40" width="150.6" height="56.0" fill="#fff" stroke="#7a7a7a" stroke-width="1.0"/>
<rect x="391.70" y="315.90" width="22.3" height="10" fill="#0072BD" stroke="#3a3a3a" stroke-width="0.75"/>
<text x="415.80" y="324.70" font-size="10.3" fill="#444" stroke="#444">anterior (M±STD)</text>
<rect x="391.70" y="329.45" width="22.3" height="10" fill="#D95319" stroke="#3a3a3a" stroke-width="0.75"/>
<text x="415.80" y="338.25" font-size="10.3" fill="#444" stroke="#444">levelled anterior (M±STD)</text>
<rect x="391.70" y="343.00" width="22.3" height="10" fill="#EDB120" stroke="#3a3a3a" stroke-width="0.75"/>
<text x="415.80" y="351.80" font-size="10.3" fill="#444" stroke="#444">posterior (M±STD)</text>
<rect x="391.70" y="356.55" width="22.3" height="10" fill="#7E2F8E" stroke="#3a3a3a" stroke-width="0.75"/>
<text x="415.80" y="365.35" font-size="10.3" fill="#444" stroke="#444">levelled posterior (M±STD)</text>
<text x="277" y="10.5" font-size="10.2" fill="#333" stroke="#333" text-anchor="middle">Conic model</text>
</svg>
</body></html>
